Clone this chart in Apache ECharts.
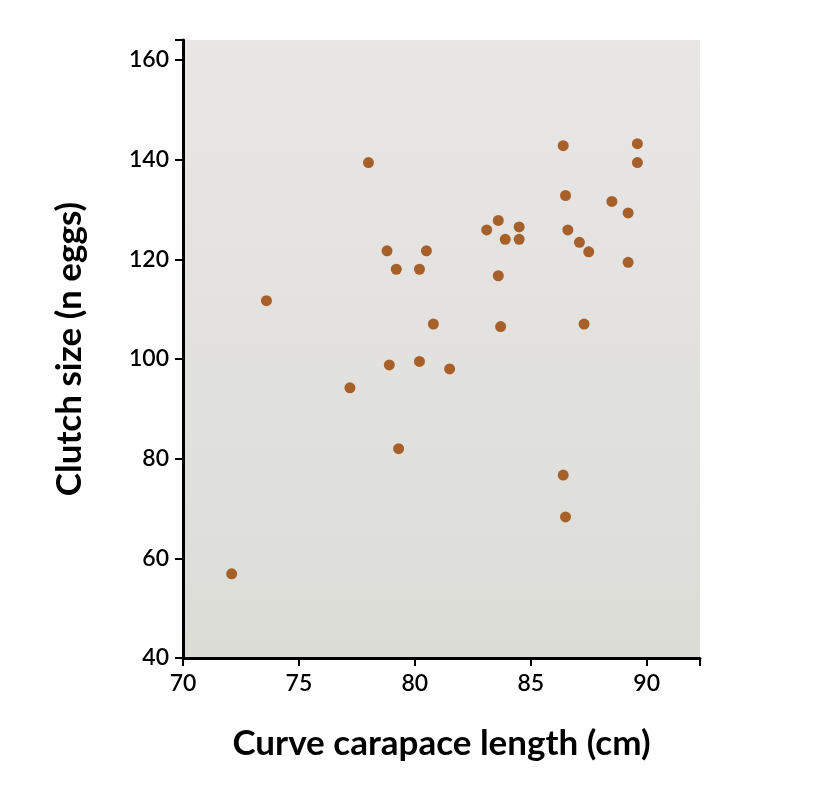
<!DOCTYPE html>
<html>
<head>
<meta charset="utf-8">
<script src="https://cdn.jsdelivr.net/npm/echarts@6/dist/echarts.min.js"></script>
<style>
  html, body { margin: 0; padding: 0; background: #fff; }
  #chart { width: 838px; height: 794px; }
</style>
</head>
<body>
<div id="chart"></div>
<script>
// carapace length (cm)
var lengths = [72.1, 73.6, 77.2, 78.0, 78.8, 79.2, 78.9, 79.3, 80.2, 80.5, 80.2, 80.8, 81.5,
  83.1, 83.6, 83.9, 83.6, 83.7, 84.5, 84.5, 86.4, 86.5, 86.6, 87.1, 87.5, 87.3, 86.4, 86.5,
  88.5, 89.2, 89.2, 89.6, 89.6];
// clutch size (eggs)
var clutch = [56.9, 111.7, 94.2, 139.4, 121.7, 118, 98.8, 82, 118, 121.7, 99.5, 107, 98,
  125.9, 127.8, 124, 116.7, 106.5, 126.5, 124, 142.8, 132.8, 125.9, 123.4, 121.5, 107, 76.7, 68.3,
  131.6, 129.3, 119.4, 143.2, 139.4];

var points = lengths.map(function (x, i) { return [x, clutch[i]]; });

var chart = echarts.init(document.getElementById('chart'));
var font = 'Lato';
chart.setOption({
  animation: false,
  grid: {
    left: 183, right: 138, top: 40, bottom: 136,
    show: true, borderWidth: 0,
    backgroundColor: {
      type: 'linear', x: 0, y: 0, x2: 0, y2: 1,
      colorStops: [{ offset: 0, color: '#e8e7e6' }, { offset: 1, color: '#dcdcd7' }]
    }
  },
  xAxis: {
    type: 'value', min: 70, max: 92.3, interval: 5,
    name: 'Curve carapace length (cm)', nameLocation: 'middle', nameGap: 68,
    nameTextStyle: { fontFamily: font, fontWeight: 'bold', fontSize: 35, color: '#000' },
    axisLine: { show: true, lineStyle: { color: '#000', width: 3 } },
    axisTick: { show: true, length: 8, lineStyle: { color: '#000', width: 2 } },
    axisLabel: { fontFamily: font, fontWeight: 600, fontSize: 23, color: '#000', margin: 14,
      formatter: function (v) { return v % 5 === 0 ? v : ''; } },
    splitLine: { show: false }
  },
  yAxis: {
    type: 'value', min: 40, max: 164, interval: 20,
    name: 'Clutch size (n eggs)', nameLocation: 'middle', nameGap: 96,
    nameTextStyle: { fontFamily: font, fontWeight: 'bold', fontSize: 35, color: '#000' },
    axisLine: { show: true, lineStyle: { color: '#000', width: 3 } },
    axisTick: { show: true, length: 8, lineStyle: { color: '#000', width: 2 } },
    axisLabel: { fontFamily: font, fontWeight: 600, fontSize: 23, color: '#000', margin: 14,
      formatter: function (v) { return v % 20 === 0 ? v : ''; } },
    splitLine: { show: false }
  },
  series: [{
    type: 'scatter',
    data: points,
    symbolSize: 11,
    itemStyle: { color: '#a8602a', opacity: 1 }
  }]
});
</script>
</body>
</html>
